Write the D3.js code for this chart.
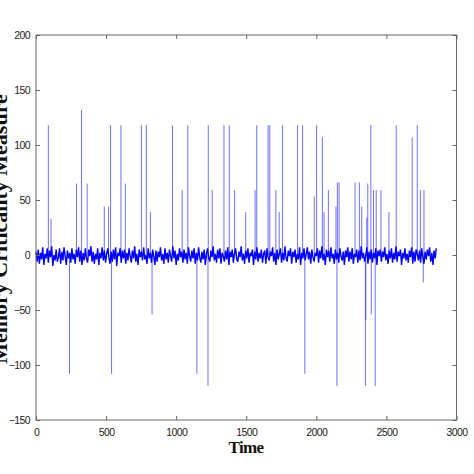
<!DOCTYPE html>
<html><head><meta charset="utf-8">
<script src="https://cdn.jsdelivr.net/npm/d3@7"></script>
<style>html,body{margin:0;padding:0;background:#fff;}svg{display:block;}</style>
</head><body>
<script>
// ---- data ----
const sampleStep = 8;
const noise = [
3,-6,5,-8,2,-4,7,-9,1,-3,6,-7,4,-2,8,-10,0,-5,5,-6,
-2,6,-8,3,-5,7,-1,-9,4,-3,2,-7,6,-4,1,-8,5,-2,7,-6,
4,-9,2,-5,6,-3,-7,5,-1,8,-6,3,-8,1,-4,6,-9,2,-3,7,
-5,4,-7,1,6,-2,-8,3,-6,5,-4,7,-10,2,-1,6,-7,4,-3,5,
-8,2,-5,6,-1,-7,4,-3,8,-6,1,-9,5,-2,3,-5,7,-4,0,-8,
6,-3,2,-7,5,-1,-9,4,-6,3,-2,7,-5,1,-8,6,-4,2,-7,5,
-1,-6,8,-3,4,-9,1,-5,6,-2,3,-7,5,-4,2,-8,7,-1,-6,4,
-3,6,-8,2,-5,7,-2,-7,3,-4,5,-9,1,6,-3,-6,4,-2,8,-5,
1,-7,5,-3,6,-8,2,-1,-6,4,-4,7,-9,3,-2,5,-7,1,6,-4,
-6,3,-2,8,-5,1,-8,4,-3,6,-7,2,-1,5,-9,3,-4,7,-6,2,
-3,5,-7,1,4,-8,6,-2,-5,3,-1,7,-6,2,-9,5,-4,1,6,-7,
2,-5,8,-3,-6,4,-1,6,-8,3,-2,5,-7,1,-4,7,-9,2,-3,6,
-5,1,7,-4,3,-8,5,-2,-6,2,-1,6,-7,4,-3,8,-5,1,-9,5,
-2,4,-6,7,-3,1,-8,5,-4,2,-7,6,-1,-5,3,-9,4,-2,7,-6,
3,-4,6,-8,1,-2,5,-7,4,-5,8,-3,2,-6,-1,7,-8,3,-4,5,
-7,2,-3,6,-9,4,-1,5,-6,3,-2,7,-5,1,-8,4,-3,6,-7,2,
-4,8,-6,3,-1,5,-9,2,-3,6,-5,1,-7,4,-2,7,-8,3,-6,5,
1,-5,4,-7,6,-2,-8,3,-4,5,-1,7,-6,2,-9,4,-3,6
];
const spikeTimes = [88,107,239,289,325,365,487,518,532,539,606,637,752,787,816,828,974,1043,1083,1148,1227,1229,1257,1341,1379,1417,1496,1563,1575,1656,1668,1711,1735,1759,1866,1902,1918,1985,2002,2043,2055,2086,2140,2147,2150,2162,2276,2307,2324,2350,2353,2360,2367,2389,2392,2408,2420,2427,2461,2518,2570,2684,2720,2742,2763,2768];
const spikeValues = [118,33,-108,65,132,65,44,44,118,-108,118,65,118,118,39,-54,118,59,118,-108,-119,118,59,118,118,59,39,59,118,118,118,59,39,118,118,118,-108,53,118,107,39,59,44,-119,66,66,66,66,44,-119,-59,34,65,118,-54,59,-119,59,59,39,118,107,118,59,-25,59];
const xTicks = [0,500,1000,1500,2000,2500,3000];
const yTicks = [-150,-100,-50,0,50,100,150,200];
const xLabel = "Time";
const yLabel = "Memory Criticality Measure";

// ---- chart ----
const W = 474, H = 474;
const x = d3.scaleLinear().domain([0,3000]).range([36,456.5]);
const y = d3.scaleLinear().domain([-150,200]).range([420,35]);

const svg = d3.select("body").append("svg").attr("width",W).attr("height",H);

const series = noise.map((v,i)=>({t:i*sampleStep, v}));
const line = d3.line().x(d=>x(d.t)).y(d=>y(d.v));

const plot = svg.append("g");
plot.selectAll("line.spike").data(spikeTimes.map((t,i)=>({t,v:spikeValues[i]})))
  .join("line").attr("class","spike")
  .attr("x1",d=>x(d.t)).attr("x2",d=>x(d.t))
  .attr("y1",y(0)).attr("y2",d=>y(d.v))
  .attr("stroke","#2a2aff").attr("stroke-width",0.9).attr("stroke-opacity",0.75);
plot.append("path").datum(series)
  .attr("d",line).attr("fill","none")
  .attr("stroke","#0000ff").attr("stroke-width",1.4).attr("stroke-linejoin","bevel");

const axisColor = "#666";
const fontTick = "'Liberation Sans', Arial, sans-serif";

// frame
svg.append("rect").attr("x",x(0)).attr("y",y(200))
  .attr("width",x(3000)-x(0)).attr("height",y(-150)-y(200))
  .attr("fill","none").attr("stroke",axisColor).attr("stroke-width",1);

function styleAxis(g){
  g.select(".domain").remove();
  g.selectAll(".tick line").attr("stroke",axisColor);
  g.selectAll(".tick text").attr("fill","#222")
    .style("font-family",fontTick).style("font-size","10.5px")
    .style("letter-spacing","-0.6px");
}
svg.append("g").attr("transform",`translate(0,${y(-150)})`)
  .call(d3.axisBottom(x).tickValues(xTicks).tickSize(-4).tickPadding(9).tickFormat(d3.format("d")))
  .call(styleAxis);
svg.append("g").attr("transform",`translate(0,${y(200)})`)
  .call(d3.axisTop(x).tickValues(xTicks).tickSize(-4).tickFormat(""))
  .call(styleAxis);
svg.append("g").attr("transform",`translate(${x(0)},0)`)
  .call(d3.axisLeft(y).tickValues(yTicks).tickSize(-4).tickPadding(6).tickFormat(d3.format("d")))
  .call(styleAxis);
svg.append("g").attr("transform",`translate(${x(3000)},0)`)
  .call(d3.axisRight(y).tickValues(yTicks).tickSize(-4).tickFormat(""))
  .call(styleAxis);

svg.append("text").attr("x",246).attr("y",453).attr("text-anchor","middle")
  .style("font-family","'Liberation Serif','Times New Roman',serif")
  .style("font-weight","bold").style("font-size","17px").style("letter-spacing","-0.6px")
  .attr("fill","#111").text(xLabel);
svg.append("text").attr("transform","translate(7,229) rotate(-90)").attr("text-anchor","middle")
  .style("font-family","'Liberation Serif','Times New Roman',serif")
  .style("font-weight","bold").style("font-size","22px")
  .attr("fill","#111").text(yLabel);
</script>
</body></html>
